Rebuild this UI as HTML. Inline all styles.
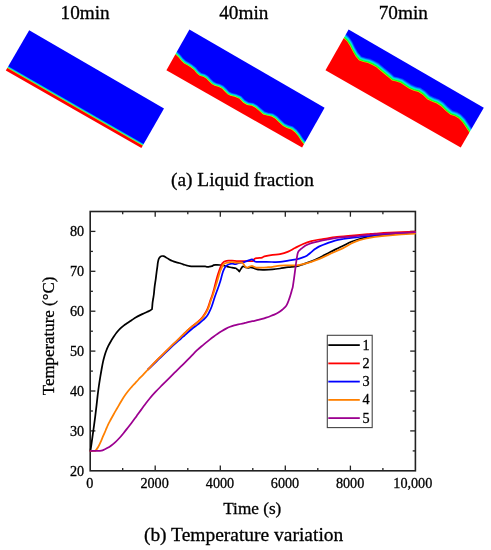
<!DOCTYPE html>
<html><head><meta charset="utf-8"><style>
html,body{margin:0;padding:0;background:#fff;}
body{width:491px;height:550px;overflow:hidden;}
svg{display:block;}
text{font-family:"Liberation Serif","Times New Roman",serif;fill:#000;stroke:#000;stroke-width:0.3px;}
</style></head><body>
<svg width="491" height="550" viewBox="0 0 491 550">
<rect width="491" height="550" fill="#fff"/>
<defs><filter id="soft" x="-5%" y="-5%" width="110%" height="110%"><feGaussianBlur stdDeviation="0.5"/></filter></defs>
<g filter="url(#soft)">
<mask id="clip1" maskUnits="userSpaceOnUse" x="0" y="0" width="491" height="200"><polygon points="5.8,70.4 29.2,30.3 164.0,108.6 141.4,148.1" fill="#fff"/></mask>
<g mask="url(#clip1)">
<rect x="0" y="0" width="491" height="200" fill="#0000fe"/>
<polygon points="-9.1,56.2 8.2,66.2 143.8,143.9 161.1,153.9 121.1,223.2 -49.1,125.5" fill="#0080ff"/>
<polygon points="-9.4,56.7 8.0,66.7 143.5,144.4 160.9,154.4 120.9,223.7 -49.4,126.0" fill="#00d0e0"/>
<polygon points="-9.6,57.1 7.7,67.1 143.3,144.8 160.6,154.8 120.6,224.1 -49.6,126.4" fill="#20f0a0"/>
<polygon points="-9.8,57.5 7.5,67.5 143.1,145.2 160.4,155.2 120.4,224.5 -49.8,126.8" fill="#60ff40"/>
<polygon points="-10.0,57.8 7.3,67.8 142.9,145.5 160.2,155.5 120.2,224.8 -50.0,127.1" fill="#e0e000"/>
<polygon points="-10.1,58.0 7.2,68.0 142.8,145.7 160.1,155.7 120.1,225.0 -50.1,127.3" fill="#ff0000"/>
</g>
<mask id="clip2" maskUnits="userSpaceOnUse" x="0" y="0" width="491" height="200"><polygon points="166.4,70.2 189.4,29.5 324.6,107.7 302.1,147.5" fill="#fff"/></mask>
<g mask="url(#clip2)">
<rect x="0" y="0" width="491" height="200" fill="#0000fe"/>
<polygon points="159.9,41.6 177.2,51.6 180.2,54.4 183.0,58.0 185.9,60.8 188.7,62.3 192.2,64.4 195.8,67.3 198.7,70.8 201.5,73.0 205.1,74.0 208.0,75.8 210.8,78.7 213.7,81.5 216.5,82.9 220.1,83.9 223.6,85.8 226.5,88.6 229.2,91.5 232.2,92.9 236.5,93.9 241.2,96.0 245.0,99.9 248.8,102.2 253.4,102.9 257.1,104.9 260.9,108.3 264.9,111.6 268.7,112.8 273.2,113.6 277.1,115.9 280.9,119.7 284.7,123.2 288.4,125.1 293.1,126.6 296.9,129.7 299.9,133.5 302.9,138.1 305.2,141.1 322.6,151.1 282.6,220.4 119.9,110.9" fill="#0050ff"/>
<polygon points="159.6,42.1 176.9,52.1 179.8,54.9 182.7,58.5 185.6,61.3 188.3,62.8 191.9,64.9 195.4,67.8 198.3,71.3 201.2,73.5 204.8,74.5 207.7,76.3 210.4,79.2 213.3,82.0 216.2,83.4 219.8,84.4 223.2,86.3 226.2,89.1 228.9,92.0 231.8,93.4 236.2,94.4 240.8,96.5 244.7,100.4 248.4,102.7 253.1,103.4 256.9,105.4 260.6,108.8 264.6,112.1 268.4,113.3 272.9,114.1 276.8,116.4 280.6,120.2 284.4,123.7 288.1,125.6 292.8,127.1 296.6,130.2 299.6,134.0 302.6,138.6 304.9,141.6 322.3,151.6 282.3,220.9 119.6,111.4" fill="#0090ff"/>
<polygon points="159.3,42.7 176.6,52.7 179.5,55.5 182.3,59.1 185.2,61.9 188.0,63.4 191.6,65.5 195.1,68.4 198.0,71.9 200.8,74.1 204.4,75.1 207.3,76.9 210.1,79.8 213.0,82.6 215.8,84.0 219.4,85.0 222.9,86.9 225.8,89.7 228.6,92.6 231.5,94.0 235.8,95.0 240.5,97.1 244.3,101.0 248.1,103.3 252.8,104.0 256.6,106.0 260.3,109.4 264.2,112.7 268.1,113.9 272.6,114.7 276.4,117.0 280.2,120.8 284.1,124.3 287.8,126.2 292.4,127.7 296.2,130.8 299.3,134.6 302.3,139.2 304.6,142.2 322.0,152.2 282.0,221.4 119.3,111.9" fill="#00d0ff"/>
<polygon points="159.1,43.1 176.4,53.1 179.3,55.9 182.1,59.5 185.0,62.3 187.8,63.8 191.4,65.9 194.9,68.8 197.8,72.3 200.6,74.5 204.2,75.5 207.1,77.3 209.9,80.2 212.8,83.0 215.6,84.4 219.2,85.4 222.7,87.3 225.6,90.1 228.4,93.0 231.3,94.4 235.6,95.4 240.3,97.5 244.1,101.4 247.9,103.7 252.5,104.4 256.3,106.4 260.1,109.8 264.0,113.1 267.8,114.3 272.4,115.1 276.2,117.4 280.0,121.2 283.8,124.7 287.6,126.6 292.2,128.1 296.0,131.2 299.1,135.0 302.1,139.6 304.4,142.6 321.7,152.6 281.7,221.9 119.1,112.4" fill="#00ffa0"/>
<polygon points="158.8,43.6 176.1,53.6 179.0,56.4 181.8,60.0 184.7,62.8 187.5,64.3 191.1,66.4 194.6,69.3 197.5,72.8 200.3,75.0 203.9,76.0 206.8,77.8 209.6,80.7 212.5,83.5 215.3,84.9 218.9,85.9 222.4,87.8 225.3,90.6 228.1,93.5 231.0,94.9 235.3,95.9 240.0,98.0 243.8,101.9 247.6,104.2 252.2,104.9 256.0,106.9 259.8,110.3 263.7,113.6 267.5,114.8 272.1,115.6 275.9,117.9 279.7,121.7 283.5,125.2 287.3,127.1 291.9,128.6 295.7,131.7 298.8,135.5 301.8,140.1 304.1,143.1 321.4,153.1 281.4,222.4 118.8,112.9" fill="#30ff30"/>
<polygon points="158.5,44.0 175.8,54.0 178.8,56.8 181.6,60.4 184.5,63.2 187.2,64.7 190.8,66.8 194.3,69.7 197.2,73.2 200.1,75.4 203.7,76.4 206.6,78.2 209.3,81.1 212.2,83.9 215.1,85.3 218.7,86.3 222.2,88.2 225.1,91.0 227.8,93.9 230.8,95.3 235.1,96.3 239.8,98.4 243.6,102.3 247.3,104.6 252.0,105.3 255.8,107.3 259.5,110.7 263.4,114.0 267.2,115.2 271.8,116.0 275.6,118.3 279.4,122.1 283.2,125.6 287.0,127.5 291.6,129.0 295.4,132.1 298.5,135.9 301.5,140.5 303.8,143.5 321.2,153.5 281.2,222.8 118.5,113.3" fill="#d0ff00"/>
<polygon points="158.3,44.4 175.6,54.4 178.5,57.2 181.3,60.8 184.2,63.6 187.0,65.1 190.6,67.2 194.1,70.1 197.0,73.6 199.8,75.8 203.4,76.8 206.3,78.6 209.1,81.5 212.0,84.3 214.8,85.7 218.4,86.7 221.9,88.6 224.8,91.4 227.6,94.3 230.5,95.7 234.8,96.7 239.5,98.8 243.3,102.7 247.1,105.0 251.8,105.7 255.5,107.7 259.3,111.1 263.2,114.4 267.1,115.6 271.6,116.4 275.4,118.7 279.2,122.5 283.1,126.0 286.8,127.9 291.4,129.4 295.2,132.5 298.3,136.3 301.3,140.9 303.6,143.9 321.0,153.9 281.0,223.2 118.3,113.7" fill="#ff0000"/>
</g>
<mask id="clip3" maskUnits="userSpaceOnUse" x="0" y="0" width="491" height="200"><polygon points="325.5,70.2 348.6,29.5 483.8,107.7 460.7,147.5" fill="#fff"/></mask>
<g mask="url(#clip3)">
<rect x="0" y="0" width="491" height="200" fill="#0000fe"/>
<polygon points="329.3,24.6 346.7,34.6 349.5,37.4 352.4,41.7 355.2,47.4 358.1,52.4 361.6,56.4 365.9,57.8 370.2,58.8 374.5,60.7 378.7,63.1 383.0,66.7 387.2,70.2 391.6,73.8 394.4,76.4 398.7,77.4 403.0,78.8 407.0,81.6 411.6,84.6 416.1,86.6 420.7,87.7 425.2,90.8 429.9,95.3 434.5,97.6 439.1,99.2 443.6,102.2 448.2,106.8 452.8,110.6 457.4,112.1 461.2,114.4 465.0,118.3 468.1,122.8 471.1,127.4 472.7,130.5 490.0,140.5 450.0,209.8 289.3,93.9" fill="#0040ff"/>
<polygon points="329.0,25.2 346.3,35.2 349.1,38.0 352.0,42.3 354.8,48.0 357.7,53.0 361.2,57.0 365.5,58.4 369.8,59.4 374.1,61.3 378.3,63.7 382.6,67.3 386.9,70.8 391.2,74.4 394.0,77.0 398.3,78.0 402.6,79.4 406.6,82.2 411.2,85.2 415.7,87.2 420.3,88.3 424.9,91.4 429.5,95.9 434.1,98.2 438.7,99.8 443.2,102.8 447.8,107.4 452.4,111.2 457.0,112.7 460.8,115.0 464.6,118.9 467.7,123.4 470.7,128.0 472.3,131.1 489.6,141.1 449.6,210.4 289.0,94.5" fill="#0080ff"/>
<polygon points="328.6,25.8 345.9,35.8 348.8,38.6 351.6,42.9 354.4,48.6 357.3,53.6 360.8,57.6 365.1,59.0 369.4,60.0 373.8,61.9 377.9,64.3 382.2,67.9 386.5,71.4 390.8,75.0 393.6,77.6 397.9,78.6 402.2,80.0 406.2,82.8 410.8,85.8 415.3,87.8 419.9,88.9 424.5,92.0 429.1,96.5 433.8,98.8 438.3,100.4 442.8,103.4 447.4,108.0 452.0,111.8 456.6,113.3 460.4,115.6 464.2,119.5 467.3,124.0 470.3,128.6 471.9,131.7 489.3,141.7 449.3,211.0 288.6,95.1" fill="#00c0ff"/>
<polygon points="328.3,26.4 345.7,36.4 348.5,39.2 351.4,43.5 354.2,49.2 357.1,54.2 360.6,58.2 364.9,59.6 369.2,60.6 373.5,62.5 377.7,64.9 382.0,68.5 386.2,72.0 390.6,75.6 393.4,78.2 397.7,79.2 402.0,80.6 406.0,83.4 410.6,86.4 415.1,88.4 419.7,89.5 424.2,92.6 428.9,97.1 433.5,99.4 438.1,101.0 442.6,104.0 447.2,108.6 451.8,112.4 456.4,113.9 460.2,116.2 464.0,120.1 467.1,124.6 470.1,129.2 471.7,132.3 489.0,142.3 449.0,211.5 288.3,95.6" fill="#00f0e0"/>
<polygon points="328.0,26.9 345.4,36.9 348.2,39.7 351.1,44.0 353.9,49.7 356.8,54.7 360.2,58.7 364.6,60.1 368.9,61.1 373.2,63.0 377.4,65.4 381.7,69.0 385.9,72.5 390.2,76.1 393.1,78.7 397.4,79.7 401.7,81.1 405.7,83.9 410.2,86.9 414.8,88.9 419.4,90.0 423.9,93.1 428.6,97.6 433.2,99.9 437.8,101.5 442.2,104.5 446.9,109.1 451.4,112.9 456.1,114.4 459.9,116.7 463.7,120.6 466.8,125.1 469.8,129.7 471.4,132.8 488.7,142.8 448.7,212.1 288.0,96.2" fill="#00ff80"/>
<polygon points="327.7,27.5 345.0,37.5 347.8,40.3 350.7,44.6 353.5,50.3 356.4,55.3 359.9,59.3 364.2,60.7 368.5,61.7 372.8,63.6 377.0,66.0 381.3,69.6 385.6,73.1 389.9,76.7 392.7,79.3 397.0,80.3 401.3,81.7 405.3,84.5 409.9,87.5 414.4,89.5 419.0,90.6 423.6,93.7 428.2,98.2 432.8,100.5 437.4,102.1 441.9,105.1 446.5,109.7 451.1,113.5 455.7,115.0 459.5,117.3 463.3,121.2 466.4,125.7 469.4,130.3 471.0,133.4 488.3,143.4 448.3,212.7 287.7,96.8" fill="#10ff10"/>
<polygon points="327.3,28.2 344.6,38.2 347.4,41.0 350.3,45.3 353.1,51.0 356.0,56.0 359.5,60.0 363.8,61.4 368.1,62.4 372.4,64.3 376.6,66.7 380.9,70.3 385.2,73.8 389.5,77.4 392.3,80.0 396.6,81.0 400.9,82.4 404.9,85.2 409.5,88.2 414.0,90.2 418.6,91.3 423.2,94.4 427.8,98.9 432.4,101.2 437.0,102.8 441.5,105.8 446.1,110.4 450.7,114.2 455.3,115.7 459.1,118.0 462.9,121.9 466.0,126.4 469.0,131.0 470.6,134.1 487.9,144.1 447.9,213.4 287.3,97.5" fill="#a0ff00"/>
<polygon points="327.1,28.6 344.4,38.6 347.2,41.4 350.1,45.7 352.9,51.4 355.8,56.4 359.3,60.4 363.6,61.8 367.9,62.8 372.2,64.7 376.4,67.1 380.7,70.7 385.0,74.2 389.3,77.8 392.1,80.4 396.4,81.4 400.7,82.8 404.7,85.6 409.3,88.6 413.8,90.6 418.4,91.7 423.0,94.8 427.6,99.3 432.2,101.6 436.8,103.2 441.3,106.2 445.9,110.8 450.5,114.6 455.1,116.1 458.9,118.4 462.7,122.3 465.8,126.8 468.8,131.4 470.4,134.5 487.7,144.5 447.7,213.8 287.1,97.9" fill="#ffa000"/>
<polygon points="326.9,28.8 344.2,38.8 347.1,41.6 349.9,45.9 352.8,51.6 355.6,56.6 359.1,60.6 363.4,62.0 367.8,63.0 372.1,64.9 376.2,67.3 380.6,70.9 384.8,74.4 389.1,78.0 391.9,80.6 396.2,81.6 400.6,83.0 404.6,85.8 409.1,88.8 413.6,90.8 418.2,91.9 422.8,95.0 427.4,99.5 432.1,101.8 436.6,103.4 441.1,106.4 445.8,111.0 450.3,114.8 454.9,116.3 458.8,118.6 462.6,122.5 465.6,127.0 468.6,131.6 470.2,134.7 487.6,144.7 447.6,214.0 286.9,98.1" fill="#ff0000"/>
</g>
</g>
<g font-size="18.5">
<text transform="translate(60.6,18.8) scale(1.04,1)">10min</text>
<text transform="translate(219.2,18.8) scale(1.04,1)">40min</text>
<text transform="translate(378.7,18.8) scale(1.04,1)">70min</text>
</g>
<text transform="translate(171,186) scale(1.03,1)" font-size="18.8">(a) Liquid fraction</text>
<g stroke="#222" stroke-width="1.3">
<line x1="90.2" y1="450.9" x2="92.9" y2="450.9"/>
<line x1="415.4" y1="450.9" x2="412.7" y2="450.9"/>
<line x1="90.2" y1="430.9" x2="95.4" y2="430.9"/>
<line x1="415.4" y1="430.9" x2="410.2" y2="430.9"/>
<line x1="90.2" y1="411.0" x2="92.9" y2="411.0"/>
<line x1="415.4" y1="411.0" x2="412.7" y2="411.0"/>
<line x1="90.2" y1="391.0" x2="95.4" y2="391.0"/>
<line x1="415.4" y1="391.0" x2="410.2" y2="391.0"/>
<line x1="90.2" y1="371.1" x2="92.9" y2="371.1"/>
<line x1="415.4" y1="371.1" x2="412.7" y2="371.1"/>
<line x1="90.2" y1="351.1" x2="95.4" y2="351.1"/>
<line x1="415.4" y1="351.1" x2="410.2" y2="351.1"/>
<line x1="90.2" y1="331.2" x2="92.9" y2="331.2"/>
<line x1="415.4" y1="331.2" x2="412.7" y2="331.2"/>
<line x1="90.2" y1="311.2" x2="95.4" y2="311.2"/>
<line x1="415.4" y1="311.2" x2="410.2" y2="311.2"/>
<line x1="90.2" y1="291.3" x2="92.9" y2="291.3"/>
<line x1="415.4" y1="291.3" x2="412.7" y2="291.3"/>
<line x1="90.2" y1="271.3" x2="95.4" y2="271.3"/>
<line x1="415.4" y1="271.3" x2="410.2" y2="271.3"/>
<line x1="90.2" y1="251.4" x2="92.9" y2="251.4"/>
<line x1="415.4" y1="251.4" x2="412.7" y2="251.4"/>
<line x1="90.2" y1="231.4" x2="95.4" y2="231.4"/>
<line x1="415.4" y1="231.4" x2="410.2" y2="231.4"/>
<line x1="122.7" y1="470.8" x2="122.7" y2="468.1"/>
<line x1="122.7" y1="211.5" x2="122.7" y2="214.2"/>
<line x1="155.2" y1="470.8" x2="155.2" y2="465.6"/>
<line x1="155.2" y1="211.5" x2="155.2" y2="216.7"/>
<line x1="187.8" y1="470.8" x2="187.8" y2="468.1"/>
<line x1="187.8" y1="211.5" x2="187.8" y2="214.2"/>
<line x1="220.3" y1="470.8" x2="220.3" y2="465.6"/>
<line x1="220.3" y1="211.5" x2="220.3" y2="216.7"/>
<line x1="252.8" y1="470.8" x2="252.8" y2="468.1"/>
<line x1="252.8" y1="211.5" x2="252.8" y2="214.2"/>
<line x1="285.3" y1="470.8" x2="285.3" y2="465.6"/>
<line x1="285.3" y1="211.5" x2="285.3" y2="216.7"/>
<line x1="317.8" y1="470.8" x2="317.8" y2="468.1"/>
<line x1="317.8" y1="211.5" x2="317.8" y2="214.2"/>
<line x1="350.4" y1="470.8" x2="350.4" y2="465.6"/>
<line x1="350.4" y1="211.5" x2="350.4" y2="216.7"/>
<line x1="382.9" y1="470.8" x2="382.9" y2="468.1"/>
<line x1="382.9" y1="211.5" x2="382.9" y2="214.2"/>
</g>
<rect x="90.2" y="211.5" width="325.2" height="259.3" fill="none" stroke="#222" stroke-width="1.6"/>
<g clip-path="none">
<path d="M90.40,451.00 C90.60,449.67 91.10,446.50 91.60,443.00 C92.10,439.50 92.80,434.36 93.40,430.00 C94.00,425.64 94.65,420.97 95.17,416.82 C95.70,412.68 96.15,408.74 96.57,405.10 C97.00,401.46 97.31,398.23 97.70,395.00 C98.09,391.77 98.48,388.69 98.90,385.75 C99.32,382.81 99.76,380.08 100.20,377.38 C100.64,374.67 101.08,372.07 101.55,369.50 C102.02,366.93 102.50,364.23 103.00,361.93 C103.50,359.62 104.02,357.55 104.58,355.65 C105.13,353.75 105.70,352.12 106.33,350.50 C106.95,348.88 107.58,347.41 108.32,345.90 C109.07,344.39 109.88,342.96 110.77,341.45 C111.67,339.94 112.69,338.33 113.67,336.85 C114.66,335.37 115.64,333.89 116.68,332.55 C117.71,331.21 118.73,329.96 119.90,328.80 C121.07,327.64 122.44,326.54 123.70,325.57 C124.96,324.61 126.32,323.77 127.45,323.00 C128.58,322.23 129.52,321.62 130.47,320.98 C131.43,320.33 132.26,319.73 133.20,319.12 C134.14,318.52 135.13,317.90 136.12,317.33 C137.12,316.75 138.16,316.18 139.18,315.65 C140.19,315.12 141.21,314.61 142.22,314.12 C143.24,313.64 144.26,313.18 145.28,312.73 C146.29,312.27 147.43,311.80 148.30,311.40 C149.17,311.00 149.88,310.67 150.50,310.30 C151.12,309.93 151.75,309.38 152.00,309.20 C152.05,308.67 152.20,307.15 152.30,306.00 C152.40,304.85 152.45,303.55 152.60,302.30 C152.75,301.05 152.98,299.88 153.20,298.50 C153.42,297.12 153.67,295.95 153.90,294.00 C154.13,292.05 154.28,289.37 154.60,286.80 C154.92,284.23 155.47,281.05 155.80,278.60 C156.13,276.15 156.33,274.13 156.60,272.10 C156.87,270.07 157.18,268.03 157.40,266.40 C157.62,264.77 157.63,263.63 157.90,262.30 C158.17,260.97 158.47,259.42 159.00,258.40 C159.53,257.38 160.35,256.57 161.10,256.20 C161.85,255.83 162.68,256.00 163.50,256.20 C164.32,256.40 165.03,256.87 166.00,257.40 C166.97,257.93 168.22,258.80 169.30,259.40 C170.38,260.00 171.42,260.53 172.50,261.00 C173.58,261.47 174.70,261.87 175.80,262.20 C176.90,262.53 177.88,262.65 179.10,263.00 C180.32,263.35 181.75,263.87 183.10,264.30 C184.45,264.73 185.83,265.27 187.20,265.60 C188.57,265.93 189.27,266.18 191.30,266.30 C193.33,266.42 197.10,266.30 199.40,266.30 C201.70,266.30 203.80,266.20 205.10,266.30 C206.40,266.40 206.52,266.83 207.20,266.90 C207.88,266.97 208.45,266.82 209.20,266.70 C209.95,266.58 210.97,266.45 211.70,266.20 C212.43,265.95 212.97,265.42 213.60,265.20 C214.23,264.98 214.47,264.93 215.50,264.90 C216.53,264.87 218.17,264.82 219.80,265.00 C221.43,265.18 223.78,265.67 225.30,266.00 C226.82,266.33 227.78,266.73 228.90,267.00 C230.02,267.27 230.87,267.40 232.00,267.60 C233.13,267.80 234.77,267.85 235.70,268.20 C236.63,268.55 237.00,269.15 237.60,269.70 C238.20,270.25 239.02,271.20 239.30,271.50 C239.62,271.00 240.58,269.35 241.20,268.50 C241.82,267.65 242.30,266.60 243.00,266.40 C243.70,266.20 244.58,267.05 245.40,267.30 C246.22,267.55 246.98,267.90 247.90,267.90 C248.82,267.90 249.88,267.25 250.90,267.30 C251.92,267.35 253.08,267.90 254.00,268.20 C254.92,268.50 255.48,268.85 256.40,269.10 C257.32,269.35 258.17,269.58 259.50,269.70 C260.83,269.82 262.22,269.85 264.40,269.80 C266.58,269.75 270.00,269.62 272.60,269.40 C275.20,269.18 277.40,268.87 280.00,268.50 C282.60,268.13 285.45,267.55 288.20,267.20 C290.95,266.85 294.02,266.88 296.50,266.40 C298.98,265.92 300.63,265.13 303.10,264.30 C305.57,263.47 308.58,262.50 311.30,261.40 C314.02,260.30 316.68,259.02 319.40,257.70 C322.12,256.38 325.00,254.85 327.60,253.50 C330.20,252.15 332.42,250.90 335.00,249.60 C337.58,248.30 340.38,247.00 343.10,245.70 C345.82,244.40 348.58,242.92 351.30,241.80 C354.02,240.68 356.68,239.80 359.40,239.00 C362.12,238.20 365.00,237.55 367.60,237.00 C370.20,236.45 371.27,236.17 375.00,235.70 C378.73,235.23 383.33,234.68 390.00,234.20 C396.67,233.72 410.83,233.03 415.00,232.80" fill="none" stroke="#000000" stroke-width="1.75" stroke-linejoin="round" stroke-linecap="round"/>
<path d="M148.10,369.40 C148.78,368.67 150.83,366.48 152.20,365.05 C153.57,363.62 154.93,362.22 156.29,360.84 C157.66,359.47 159.01,358.13 160.37,356.79 C161.73,355.46 163.07,354.14 164.43,352.81 C165.79,351.49 167.15,350.14 168.51,348.83 C169.86,347.52 171.24,346.19 172.55,344.94 C173.86,343.69 175.16,342.50 176.39,341.32 C177.62,340.15 178.76,339.04 179.94,337.87 C181.12,336.69 182.24,335.49 183.46,334.27 C184.68,333.05 185.96,331.76 187.26,330.57 C188.56,329.38 189.93,328.20 191.26,327.11 C192.58,326.01 193.94,325.00 195.21,323.98 C196.47,322.96 197.72,322.01 198.85,320.97 C199.98,319.93 201.02,318.89 201.99,317.72 C202.96,316.54 203.80,315.27 204.66,313.92 C205.51,312.57 206.43,311.00 207.10,309.60 C207.77,308.20 208.17,307.00 208.70,305.50 C209.23,304.00 209.70,302.35 210.30,300.60 C210.90,298.85 211.65,297.02 212.30,295.00 C212.95,292.98 213.62,290.67 214.20,288.50 C214.78,286.33 215.28,284.02 215.80,282.00 C216.32,279.98 216.78,278.15 217.30,276.40 C217.82,274.65 218.33,273.12 218.90,271.50 C219.47,269.88 220.15,268.02 220.70,266.70 C221.25,265.38 221.65,264.42 222.20,263.60 C222.75,262.78 223.28,262.25 224.00,261.80 C224.72,261.35 225.58,261.08 226.50,260.90 C227.42,260.72 228.58,260.75 229.50,260.70 C230.42,260.65 230.57,260.53 232.00,260.60 C233.43,260.67 236.07,261.00 238.10,261.10 C240.13,261.20 242.17,261.18 244.20,261.20 C246.23,261.22 248.80,261.25 250.30,261.20 C251.80,261.15 252.48,261.30 253.20,260.90 C253.92,260.50 253.85,259.27 254.60,258.80 C255.35,258.33 256.47,258.30 257.70,258.10 C258.93,257.90 260.88,257.88 262.00,257.60 C263.12,257.32 262.63,256.87 264.40,256.40 C266.17,255.93 270.00,255.18 272.60,254.80 C275.20,254.42 277.40,254.63 280.00,254.10 C282.60,253.57 285.70,252.62 288.20,251.60 C290.70,250.58 292.52,249.27 295.00,248.00 C297.48,246.73 300.38,245.15 303.10,244.00 C305.82,242.85 308.58,241.85 311.30,241.10 C314.02,240.35 316.68,239.97 319.40,239.50 C322.12,239.03 325.00,238.72 327.60,238.30 C330.20,237.88 331.05,237.47 335.00,237.00 C338.95,236.53 345.87,235.97 351.30,235.50 C356.73,235.03 363.65,234.52 367.60,234.20 C371.55,233.88 371.27,233.85 375.00,233.60 C378.73,233.35 383.33,233.02 390.00,232.70 C396.67,232.38 410.83,231.87 415.00,231.70" fill="none" stroke="#ff0000" stroke-width="1.75" stroke-linejoin="round" stroke-linecap="round"/>
<path d="M148.10,369.40 C148.81,368.74 150.98,366.76 152.39,365.43 C153.80,364.09 155.19,362.74 156.57,361.41 C157.96,360.07 159.31,358.73 160.67,357.40 C162.03,356.07 163.38,354.76 164.73,353.44 C166.09,352.13 167.45,350.80 168.81,349.50 C170.16,348.20 171.53,346.89 172.88,345.66 C174.22,344.43 175.57,343.26 176.89,342.12 C178.21,340.97 179.53,339.89 180.79,338.79 C182.06,337.69 183.28,336.58 184.48,335.51 C185.68,334.43 186.80,333.37 187.98,332.32 C189.17,331.28 190.34,330.26 191.59,329.25 C192.83,328.24 194.14,327.24 195.44,326.24 C196.74,325.24 198.10,324.29 199.39,323.24 C200.69,322.20 201.97,321.13 203.21,319.97 C204.44,318.81 205.80,317.59 206.80,316.30 C207.80,315.01 208.38,313.83 209.20,312.20 C210.02,310.57 211.02,308.27 211.70,306.50 C212.38,304.73 212.73,303.35 213.30,301.60 C213.87,299.85 214.43,297.93 215.10,296.00 C215.77,294.07 216.47,292.33 217.30,290.00 C218.13,287.67 219.43,284.05 220.10,282.00 C220.77,279.95 220.85,279.33 221.30,277.70 C221.75,276.07 222.23,273.83 222.80,272.20 C223.37,270.57 224.08,268.98 224.70,267.90 C225.32,266.82 225.80,266.32 226.50,265.70 C227.20,265.08 227.98,264.53 228.90,264.20 C229.82,263.87 230.87,263.72 232.00,263.70 C233.13,263.68 234.48,264.22 235.70,264.10 C236.92,263.98 237.88,263.33 239.30,263.00 C240.72,262.67 242.77,262.50 244.20,262.10 C245.63,261.70 246.88,260.97 247.90,260.60 C248.92,260.23 249.58,260.12 250.30,259.90 C251.02,259.68 251.48,259.08 252.20,259.30 C252.92,259.52 253.90,260.78 254.60,261.20 C255.30,261.62 255.17,261.70 256.40,261.80 C257.63,261.90 259.40,261.77 262.00,261.80 C264.60,261.83 269.00,261.98 272.00,262.00 C275.00,262.02 277.30,262.13 280.00,261.90 C282.70,261.67 285.47,261.02 288.20,260.60 C290.93,260.18 293.95,259.93 296.40,259.40 C298.85,258.87 301.10,258.07 302.90,257.40 C304.70,256.73 305.80,256.28 307.20,255.40 C308.60,254.52 309.93,253.20 311.30,252.10 C312.67,251.00 314.05,249.75 315.40,248.80 C316.75,247.85 317.37,247.35 319.40,246.40 C321.43,245.45 325.00,244.07 327.60,243.10 C330.20,242.13 332.42,241.28 335.00,240.60 C337.58,239.92 340.38,239.47 343.10,239.00 C345.82,238.53 348.58,238.13 351.30,237.80 C354.02,237.47 356.68,237.28 359.40,237.00 C362.12,236.72 365.00,236.40 367.60,236.10 C370.20,235.80 371.27,235.58 375.00,235.20 C378.73,234.82 383.33,234.23 390.00,233.80 C396.67,233.37 410.83,232.80 415.00,232.60" fill="none" stroke="#0000ff" stroke-width="1.75" stroke-linejoin="round" stroke-linecap="round"/>
<path d="M90.40,451.00 C91.17,450.97 94.07,450.95 95.00,450.80 C95.93,450.65 95.45,450.77 96.00,450.10 C96.55,449.43 97.52,448.17 98.30,446.80 C99.08,445.43 99.90,443.67 100.70,441.90 C101.50,440.13 102.28,438.10 103.10,436.20 C103.92,434.30 104.78,432.40 105.60,430.50 C106.42,428.60 107.18,426.55 108.00,424.80 C108.82,423.05 109.55,421.77 110.50,420.00 C111.45,418.23 112.62,416.12 113.70,414.20 C114.78,412.28 115.90,410.40 117.00,408.50 C118.10,406.60 119.22,404.63 120.30,402.80 C121.38,400.97 122.28,399.33 123.50,397.50 C124.72,395.67 126.23,393.57 127.60,391.80 C128.97,390.03 130.47,388.32 131.70,386.90 C132.93,385.48 133.87,384.53 135.00,383.30 C136.13,382.07 137.16,380.91 138.50,379.50 C139.84,378.09 141.51,376.44 143.04,374.84 C144.56,373.25 146.15,371.53 147.66,369.92 C149.18,368.30 150.67,366.67 152.11,365.16 C153.55,363.64 154.92,362.24 156.29,360.84 C157.67,359.45 159.01,358.13 160.37,356.79 C161.73,355.46 163.07,354.14 164.43,352.81 C165.79,351.49 167.15,350.14 168.51,348.83 C169.86,347.52 171.24,346.19 172.55,344.94 C173.86,343.69 175.16,342.50 176.39,341.32 C177.62,340.15 178.76,339.04 179.94,337.87 C181.12,336.69 182.24,335.48 183.46,334.27 C184.68,333.05 185.96,331.76 187.26,330.58 C188.57,329.39 189.95,328.23 191.29,327.14 C192.64,326.06 194.02,325.08 195.32,324.09 C196.62,323.09 197.91,322.18 199.08,321.16 C200.24,320.14 201.32,319.14 202.32,317.98 C203.33,316.81 204.20,315.54 205.08,314.18 C205.96,312.81 206.91,311.21 207.60,309.80 C208.29,308.39 208.67,307.20 209.20,305.70 C209.73,304.20 210.18,302.58 210.80,300.80 C211.42,299.02 212.20,297.05 212.90,295.00 C213.60,292.95 214.32,290.67 215.00,288.50 C215.68,286.33 216.40,284.02 217.00,282.00 C217.60,279.98 218.08,278.15 218.60,276.40 C219.12,274.65 219.55,273.02 220.10,271.50 C220.65,269.98 221.30,268.52 221.90,267.30 C222.50,266.08 223.03,264.92 223.70,264.20 C224.37,263.48 224.93,263.30 225.90,263.00 C226.87,262.70 228.48,262.57 229.50,262.40 C230.52,262.23 230.77,261.95 232.00,262.00 C233.23,262.05 235.27,262.58 236.90,262.70 C238.53,262.82 240.68,262.45 241.80,262.70 C242.92,262.95 243.00,263.52 243.60,264.20 C244.20,264.88 244.78,266.25 245.40,266.80 C246.02,267.35 246.28,267.63 247.30,267.50 C248.32,267.37 250.18,266.03 251.50,266.00 C252.82,265.97 254.17,267.03 255.20,267.30 C256.23,267.57 256.57,267.55 257.70,267.60 C258.83,267.65 260.28,267.67 262.00,267.60 C263.72,267.53 266.23,267.33 268.00,267.20 C269.77,267.07 270.60,267.07 272.60,266.80 C274.60,266.53 277.40,265.83 280.00,265.60 C282.60,265.37 285.45,265.45 288.20,265.40 C290.95,265.35 294.02,265.50 296.50,265.30 C298.98,265.10 300.63,264.77 303.10,264.20 C305.57,263.63 308.58,262.78 311.30,261.90 C314.02,261.02 316.68,260.03 319.40,258.90 C322.12,257.77 325.00,256.30 327.60,255.10 C330.20,253.90 332.42,252.87 335.00,251.70 C337.58,250.53 340.38,249.47 343.10,248.10 C345.82,246.73 348.58,244.82 351.30,243.50 C354.02,242.18 356.68,241.08 359.40,240.20 C362.12,239.32 365.00,238.77 367.60,238.20 C370.20,237.63 371.27,237.28 375.00,236.80 C378.73,236.32 383.33,235.83 390.00,235.30 C396.67,234.77 410.83,233.88 415.00,233.60" fill="none" stroke="#ff8000" stroke-width="1.75" stroke-linejoin="round" stroke-linecap="round"/>
<path d="M90.40,451.00 C91.98,450.97 97.78,450.95 99.90,450.80 C102.02,450.65 101.88,450.55 103.10,450.10 C104.32,449.65 105.83,448.88 107.20,448.10 C108.57,447.32 109.94,446.43 111.30,445.43 C112.66,444.42 114.02,443.31 115.38,442.07 C116.73,440.84 118.07,439.48 119.43,438.00 C120.78,436.52 122.14,434.87 123.50,433.20 C124.86,431.53 126.27,429.71 127.60,428.00 C128.93,426.29 130.31,424.50 131.50,422.93 C132.69,421.35 133.72,419.97 134.75,418.57 C135.78,417.18 136.60,416.02 137.65,414.57 C138.70,413.12 139.85,411.56 141.07,409.88 C142.30,408.19 143.59,406.35 145.03,404.45 C146.46,402.55 147.93,400.56 149.68,398.47 C151.42,396.39 153.45,394.13 155.48,391.95 C157.50,389.78 159.70,387.57 161.82,385.42 C163.95,383.28 166.07,381.19 168.20,379.07 C170.33,376.96 172.47,374.83 174.60,372.73 C176.73,370.62 178.90,368.53 180.98,366.48 C183.05,364.43 185.16,362.36 187.07,360.42 C188.99,358.49 190.80,356.55 192.48,354.85 C194.15,353.15 195.63,351.62 197.10,350.23 C198.57,348.83 199.92,347.66 201.30,346.48 C202.68,345.29 204.02,344.21 205.38,343.10 C206.73,341.99 208.07,340.90 209.43,339.83 C210.78,338.75 212.12,337.69 213.50,336.68 C214.88,335.66 216.27,334.67 217.68,333.73 C219.08,332.78 220.53,331.85 221.93,331.00 C223.33,330.15 224.71,329.33 226.08,328.62 C227.44,327.92 228.77,327.29 230.12,326.75 C231.48,326.21 232.84,325.79 234.20,325.40 C235.56,325.01 236.94,324.73 238.30,324.42 C239.66,324.12 241.02,323.85 242.38,323.55 C243.73,323.25 245.07,322.92 246.43,322.60 C247.78,322.28 249.15,321.95 250.50,321.65 C251.85,321.35 253.20,321.09 254.50,320.80 C255.80,320.51 257.05,320.25 258.33,319.92 C259.60,319.60 260.85,319.26 262.15,318.88 C263.45,318.49 264.78,318.07 266.12,317.62 C267.47,317.18 268.84,316.72 270.20,316.22 C271.56,315.73 272.94,315.25 274.30,314.65 C275.66,314.05 277.05,313.41 278.38,312.60 C279.70,311.79 281.02,310.82 282.27,309.77 C283.53,308.72 284.95,307.56 285.90,306.30 C286.85,305.04 287.40,303.57 288.00,302.20 C288.60,300.83 289.03,299.47 289.50,298.10 C289.97,296.73 290.40,295.35 290.80,294.00 C291.20,292.65 291.57,291.20 291.90,290.00 C292.23,288.80 292.45,288.70 292.80,286.80 C293.15,284.90 293.62,281.33 294.00,278.60 C294.38,275.87 294.77,272.92 295.10,270.40 C295.43,267.88 295.67,265.83 296.00,263.50 C296.33,261.17 296.77,258.27 297.10,256.40 C297.43,254.53 297.52,253.40 298.00,252.30 C298.48,251.20 299.42,250.42 300.00,249.80 C300.58,249.18 300.57,249.30 301.50,248.60 C302.43,247.90 303.97,246.52 305.60,245.60 C307.23,244.68 309.00,243.85 311.30,243.10 C313.60,242.35 316.68,241.70 319.40,241.10 C322.12,240.50 325.00,239.98 327.60,239.50 C330.20,239.02 331.05,238.68 335.00,238.20 C338.95,237.72 345.87,237.15 351.30,236.60 C356.73,236.05 363.65,235.30 367.60,234.90 C371.55,234.50 371.27,234.47 375.00,234.20 C378.73,233.93 383.33,233.63 390.00,233.30 C396.67,232.97 410.83,232.38 415.00,232.20" fill="none" stroke="#9c0090" stroke-width="1.75" stroke-linejoin="round" stroke-linecap="round"/>
</g>
<rect x="327.3" y="335.3" width="44.9" height="92.3" fill="#fff" stroke="#444" stroke-width="1.1"/>
<g font-size="14.2">
<line x1="328.3" y1="345.1" x2="359.8" y2="345.1" stroke="#000000" stroke-width="1.8"/>
<text x="362.6" y="349.5">1</text>
<line x1="328.3" y1="363.4" x2="359.8" y2="363.4" stroke="#ff0000" stroke-width="1.8"/>
<text x="362.6" y="367.8">2</text>
<line x1="328.3" y1="381.6" x2="359.8" y2="381.6" stroke="#0000ff" stroke-width="1.8"/>
<text x="362.6" y="386.0">3</text>
<line x1="328.3" y1="399.9" x2="359.8" y2="399.9" stroke="#ff8000" stroke-width="1.8"/>
<text x="362.6" y="404.2">4</text>
<line x1="328.3" y1="418.1" x2="359.8" y2="418.1" stroke="#9c0090" stroke-width="1.8"/>
<text x="362.6" y="422.5">5</text>
<text x="84.1" y="475.6" text-anchor="end">20</text>
<text x="84.1" y="435.7" text-anchor="end">30</text>
<text x="84.1" y="395.8" text-anchor="end">40</text>
<text x="84.1" y="355.9" text-anchor="end">50</text>
<text x="84.1" y="316.0" text-anchor="end">60</text>
<text x="84.1" y="276.1" text-anchor="end">70</text>
<text x="84.1" y="236.2" text-anchor="end">80</text>
<text x="89.7" y="487.6" text-anchor="middle">0</text>
<text x="154.6" y="487.6" text-anchor="middle">2000</text>
<text x="220.0" y="487.6" text-anchor="middle">4000</text>
<text x="285.0" y="487.6" text-anchor="middle">6000</text>
<text x="350.1" y="487.6" text-anchor="middle">8000</text>
<text x="412.8" y="487.6" text-anchor="middle">10,000</text>
</g>
<text transform="translate(223.2,513.8) scale(1.012,1)" font-size="17">Time (s)</text>
<text transform="translate(54.3,395.2) rotate(-90) scale(1,1.045)" font-size="16.9">Temperature (°C)</text>
<text transform="translate(143.9,540.6) scale(1.02,1)" font-size="19.1">(b) Temperature variation</text>
</svg>
</body></html>
